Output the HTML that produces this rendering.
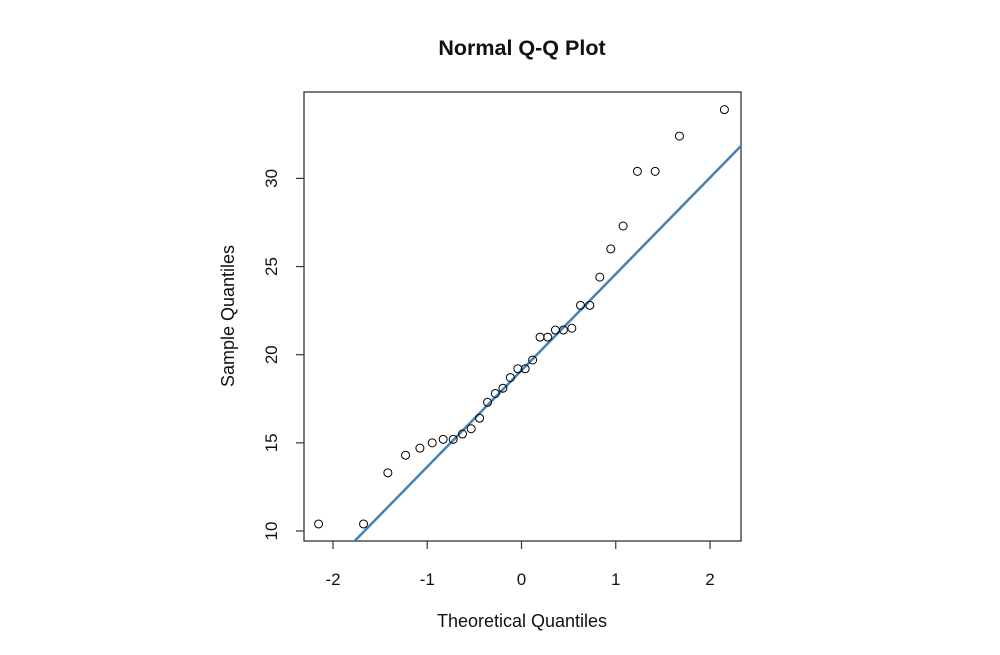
<!DOCTYPE html>
<html><head><meta charset="utf-8"><style>
body{margin:0;background:#fff}
svg{display:block}
text{font-family:"Liberation Sans",Arial,sans-serif;fill:#111}
</style></head><body>
<svg id="chart" width="1000" height="655" viewBox="0 0 1000 655">
<text x="522" y="55" text-anchor="middle" font-size="21.5" font-weight="bold">Normal Q-Q Plot</text>
<rect x="304" y="92" width="437" height="449" fill="none" stroke="#333" stroke-width="1.3"/>
<g id="xaxis"></g>
<g id="yaxis"></g>
<text x="522" y="627" text-anchor="middle" font-size="18">Theoretical Quantiles</text>
<text transform="translate(234,316) rotate(-90)" text-anchor="middle" font-size="18">Sample Quantiles</text>
<defs><clipPath id="clip"><rect x="304" y="92" width="437" height="449"/></clipPath></defs>
<g id="lineg" clip-path="url(#clip)"></g>
<g id="points"></g>
</svg>
<script>
const theoretical=[-2.153,-1.676,-1.418,-1.230,-1.078,-0.947,-0.831,-0.725,-0.626,-0.534,-0.445,-0.360,-0.278,-0.197,-0.118,-0.039,0.039,0.118,0.197,0.278,0.360,0.445,0.534,0.626,0.725,0.831,0.947,1.078,1.230,1.418,1.676,2.153];
const sample=[10.4,10.4,13.3,14.3,14.7,15.0,15.2,15.2,15.5,15.8,16.4,17.3,17.8,18.1,18.7,19.2,19.2,19.7,21.0,21.0,21.4,21.4,21.5,22.8,22.8,24.4,26.0,27.3,30.4,30.4,32.4,33.9];
const xTicks=[-2,-1,0,1,2];
const yTicks=[10,15,20,25,30];
const lineSlope=[5.467];
const lineIntercept=[19.11];
const NS='http://www.w3.org/2000/svg';
function X(v){return 521.5+(v)*94.25;}
function Y(v){return 531-(v-10)*17.63;}
function mk(t,a,p){const e=document.createElementNS(NS,t);for(const k in a)e.setAttribute(k,a[k]);p.appendChild(e);return e;}
const xa=document.getElementById('xaxis'),ya=document.getElementById('yaxis');
xTicks.forEach(t=>{
 const l=mk('line',{x1:X(t),x2:X(t),y1:541,y2:549,stroke:'#333','stroke-width':1.2},xa);
 
 
 const s=mk('text',{x:X(t),y:585,'text-anchor':'middle','font-size':17},xa);
 
 
 s.textContent=t;
});
yTicks.forEach(t=>{
 const l=mk('line',{x1:296,x2:304,y1:Y(t),y2:Y(t),stroke:'#333','stroke-width':1.2},ya);
 
 
 const s=mk('text',{transform:`translate(277,${Y(t)}) rotate(-90)`,'text-anchor':'middle','font-size':17},ya);
 
 
 s.textContent=t;
});
const lg=document.getElementById('lineg');
const x0=-3,x1=3;
const ln=mk('line',{x1:X(x0),y1:Y(lineIntercept[0]+lineSlope[0]*x0),x2:X(x1),y2:Y(lineIntercept[0]+lineSlope[0]*x1),stroke:'#4682b4','stroke-width':2.5},lg);


const pg=document.getElementById('points');
theoretical.forEach((q,i)=>{
 const c=mk('circle',{cx:X(q),cy:Y(sample[i]),r:4,fill:'none',stroke:'#000','stroke-width':1},pg);
 
 
});
</script>
</body></html>
